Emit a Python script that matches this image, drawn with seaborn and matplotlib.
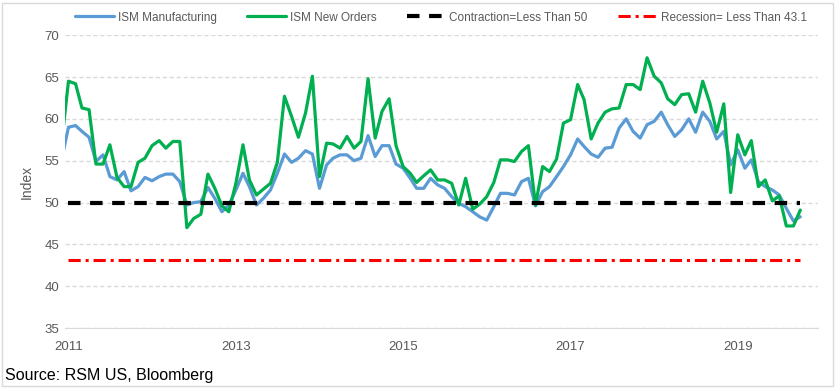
import matplotlib
matplotlib.use("Agg")
import matplotlib.pyplot as plt
import matplotlib.dates as mdates
from matplotlib.patches import Rectangle
import pandas as pd
import seaborn as sns

# monthly readings, Dec 2010 .. Oct 2019 (first month is clipped by the axis)
months = pd.date_range("2010-12-01", "2019-10-01", freq="MS")

ism_manufacturing = [
    55.0,
    59.0, 59.2, 58.5, 57.8, 54.9, 55.7, 53.1, 52.7, 53.7, 51.4, 51.9, 53.0,
    52.6, 53.1, 53.4, 53.4, 52.5, 49.7, 50.0, 50.1, 51.8, 50.5, 48.9, 49.7,
    51.5, 53.5, 51.9, 49.7, 50.5, 51.5, 53.5, 55.8, 54.8, 55.3, 56.2, 55.8,
    51.7, 54.5, 55.3, 55.7, 55.7, 55.0, 55.3, 58.0, 55.5, 56.8, 56.8, 54.6,
    54.1, 52.9, 51.7, 51.7, 52.9, 52.1, 51.7, 50.7, 49.9, 49.5, 48.9, 48.3,
    47.9, 49.5, 51.1, 51.1, 50.9, 52.5, 52.9, 49.6, 51.3, 51.9, 53.1, 54.3,
    55.7, 57.6, 56.7, 55.8, 55.4, 56.5, 56.6, 58.9, 60.0, 58.5, 57.7, 59.3,
    59.7, 60.8, 59.3, 57.9, 58.7, 60.0, 58.4, 60.8, 59.7, 57.6, 58.5, 54.5,
    56.3, 54.1, 55.1, 52.5, 51.9, 51.5, 50.9, 49.3, 47.8, 48.3,
]
ism_new_orders = [
    56.8,
    64.5, 64.2, 61.3, 61.1, 54.6, 54.6, 56.9, 53.0, 51.9, 51.9, 54.8, 55.3,
    56.8, 57.4, 56.5, 57.3, 57.3, 47.0, 48.1, 48.6, 53.4, 51.7, 49.6, 48.9,
    52.3, 56.9, 52.7, 50.9, 51.6, 52.3, 54.8, 62.7, 60.3, 57.8, 60.7, 65.1,
    53.1, 57.1, 57.0, 56.5, 57.9, 56.5, 57.3, 64.8, 57.7, 60.9, 62.4, 56.8,
    54.3, 53.5, 52.4, 53.2, 53.9, 52.7, 52.7, 52.3, 49.7, 52.9, 49.2, 49.8,
    50.7, 52.4, 55.1, 55.1, 54.9, 56.1, 56.8, 49.7, 54.3, 53.7, 55.2, 59.5,
    59.9, 64.1, 62.3, 57.6, 59.5, 60.8, 61.2, 61.3, 64.1, 64.1, 63.5, 67.3,
    65.1, 64.3, 62.4, 61.7, 62.9, 63.0, 60.8, 64.5, 61.9, 58.4, 61.8, 51.2,
    58.1, 55.7, 57.4, 51.9, 52.7, 50.2, 50.8, 47.2, 47.2, 49.1,
]
contraction_level = 50
recession_level = 43.1

series_names = ["ISM Manufacturing", "ISM New Orders"]
series_colors = ["#5B9BD5", "#00B050"]
threshold_labels = ["Contraction=Less Than 50", "Recession= Less Than 43.1"]
year_ticks = ["2011", "2013", "2015", "2017", "2019"]
y_ticks = [35, 40, 45, 50, 55, 60, 65, 70]

sns.set_style("white")
plt.rcParams["font.family"] = ["Liberation Sans", "DejaVu Sans"]

df = pd.DataFrame({"date": months,
                   series_names[0]: ism_manufacturing,
                   series_names[1]: ism_new_orders})
long_df = df.melt(id_vars="date", var_name="series", value_name="value")

fig = plt.figure(figsize=(8.4, 3.91), dpi=100)
ax = fig.add_axes([0.0774, 0.161, 0.8966, 0.749])

sns.lineplot(data=long_df, x="date", y="value", hue="series",
             palette=dict(zip(series_names, series_colors)),
             linewidth=2.3, ax=ax, legend=False)

line_dates = months[1:]
sns.lineplot(x=line_dates, y=[contraction_level] * len(line_dates), color="black",
             linewidth=3.0, linestyle=(0, (3.0, 2.3)), ax=ax)
sns.lineplot(x=line_dates, y=[recession_level] * len(line_dates), color="#FF0000",
             linewidth=2.2, linestyle=(0, (4, 1.6, 1, 1.6)), ax=ax)

ax.set_xlim(pd.Timestamp("2010-12-17"), pd.Timestamp("2019-12-18"))
ax.set_ylim(35, 70)
ax.set_yticks(y_ticks)
ax.set_xticks([pd.Timestamp(y + "-01-01") for y in year_ticks])
ax.xaxis.set_major_formatter(mdates.DateFormatter("%Y"))
ax.tick_params(axis="both", length=0, labelsize=9.5, labelcolor="#595959", pad=4)
ax.tick_params(axis="x", pad=9)

ax.yaxis.grid(True, linestyle=(0, (3, 2)), color="#D9D9D9", linewidth=1)
ax.set_axisbelow(True)
for side in ["top", "right", "left"]:
    ax.spines[side].set_visible(False)
ax.spines["bottom"].set_color("#D9D9D9")
ax.set_xlabel("")
ax.set_ylabel("Index", fontsize=10, color="#595959", labelpad=8)

handles = ax.get_lines()[:4]
fig.legend(handles, series_names + threshold_labels, loc="center",
           bbox_to_anchor=(0.525, 0.955), ncol=4, frameon=False,
           fontsize=8.5, handlelength=3.3, columnspacing=2.6, handletextpad=0.3,
           labelcolor="#595959")

fig.text(0.006, 0.04, "Source: RSM US, Bloomberg", fontsize=11.5, color="black",
         va="center", ha="left")

fig.patches.append(Rectangle((0.002, 0.012), 0.99, 0.98, transform=fig.transFigure,
                             fill=False, edgecolor="#D9D9D9", linewidth=1))

fig.savefig("out.png", dpi=100, facecolor="white")
